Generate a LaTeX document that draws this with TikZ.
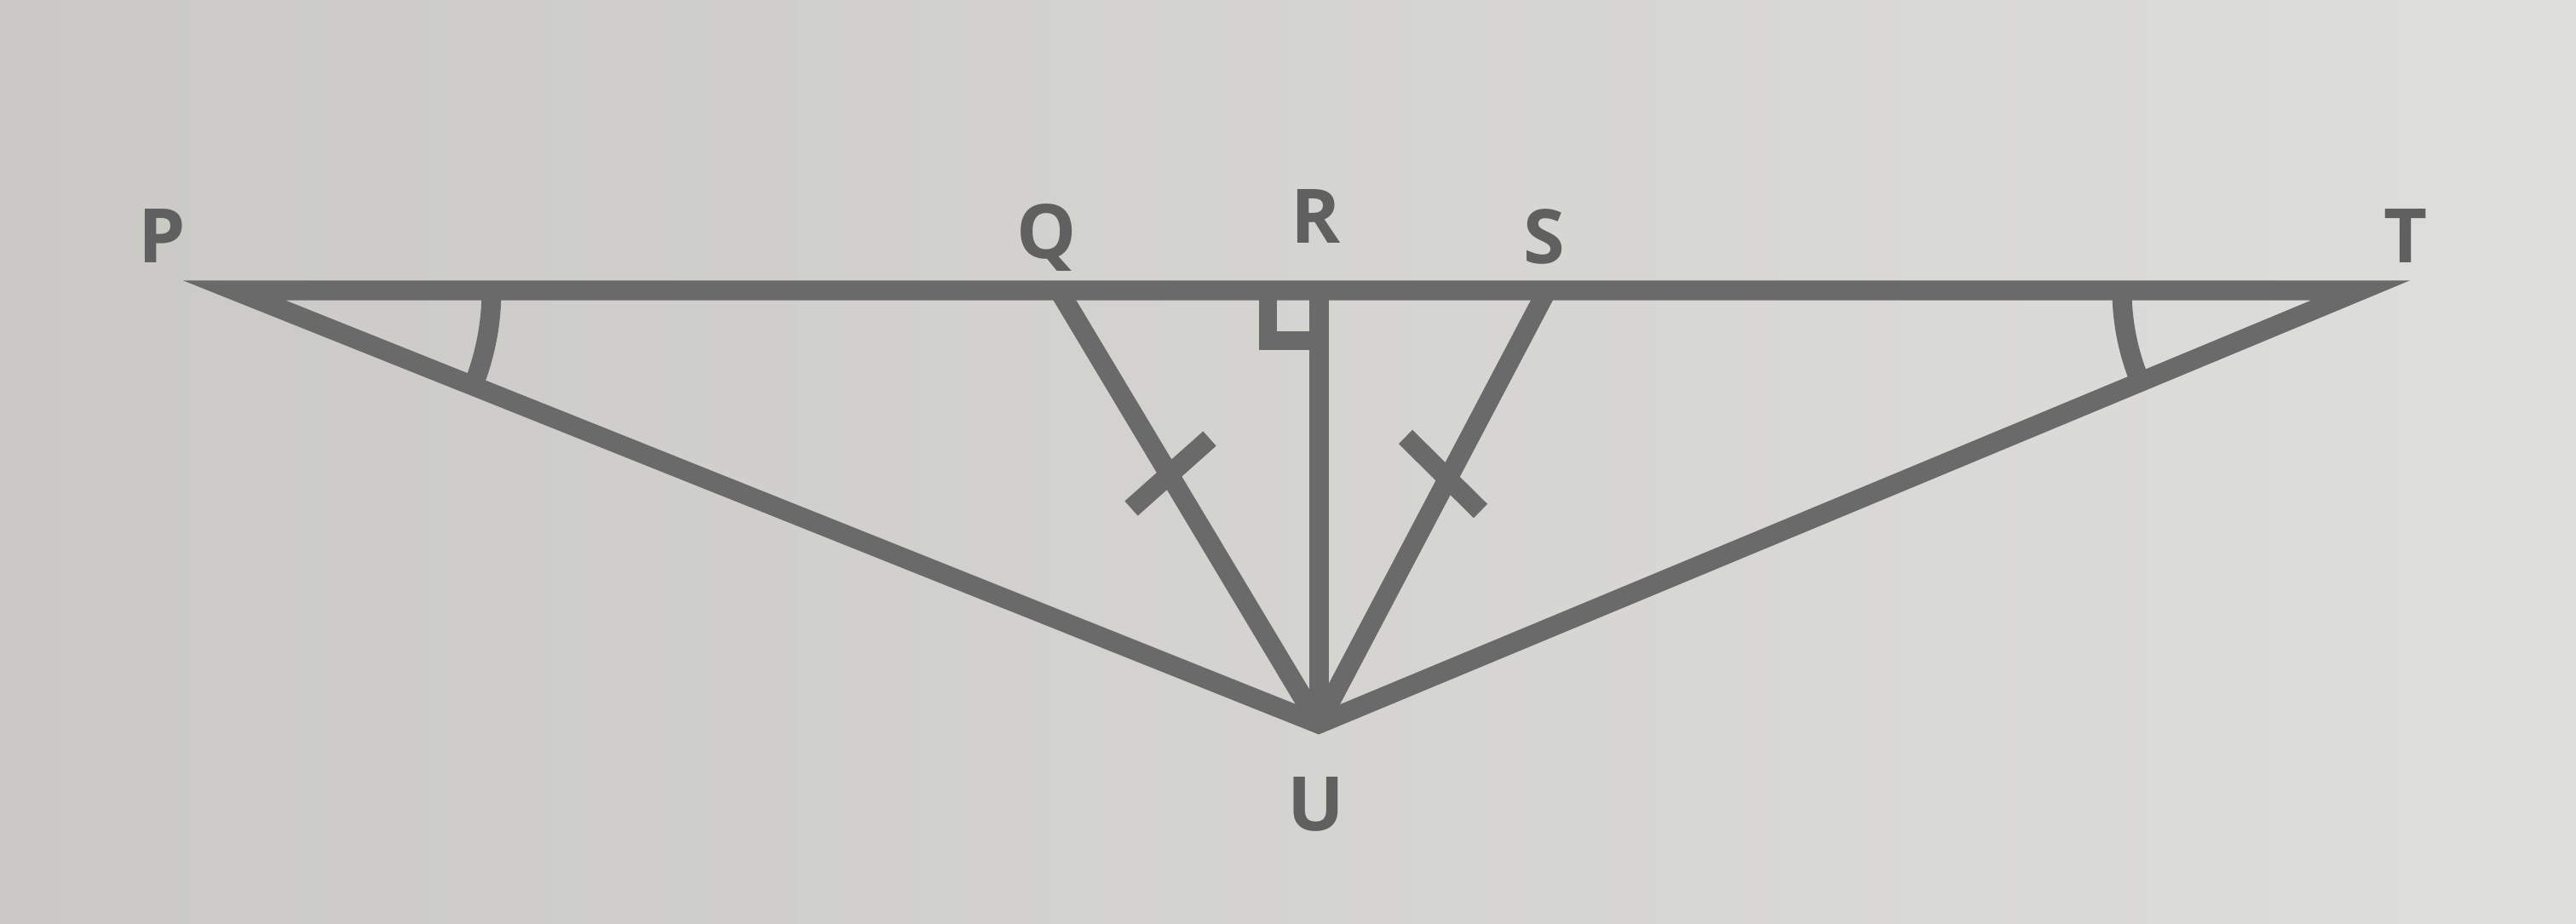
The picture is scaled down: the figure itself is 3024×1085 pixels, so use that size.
\documentclass[tikz,border=0pt]{standalone}
\usepackage{fontspec}
\setmainfont{Open Sans}
\definecolor{linegray}{RGB}{106,106,106}
\definecolor{textgray}{RGB}{96,96,96}
\definecolor{bgleft}{RGB}{202,201,197}
\definecolor{bgright}{RGB}{222,222,220}
\begin{document}
\begin{tikzpicture}[x=0.01cm,y=0.01cm,
  geo/.style={draw=linegray, line width=0.23cm, line join=miter, line cap=butt},
  lab/.style={text=textgray, font=\bfseries\fontsize{25.1}{30}\selectfont, inner sep=0pt, anchor=base}]
\useasboundingbox (0,0) rectangle (3024,-1085);
\shade[left color=bgleft, right color=bgright] (0,0) rectangle (3024,-1085);
% vertices
\coordinate (P) at (275,-341);
\coordinate (Q) at (1243,-341);
\coordinate (R) at (1548,-341);
\coordinate (S) at (1816,-341);
\coordinate (T) at (2771,-341);
\coordinate (U) at (1548,-850);
% angle marks (under the lines)
\draw[geo] ([shift={(0:302)}]P) arc[start angle=0, end angle=-21.8, radius=302];
\draw[geo] ([shift={(180:280)}]T) arc[start angle=180, end angle=202.6, radius=280];
% right angle mark
\draw[geo, line width=0.21cm] (1488,-341) -- (1488,-400) -- (1548,-400);
% segments
\draw[geo] (Q) -- (U);
\draw[geo] (R) -- (U);
\draw[geo] (S) -- (U);
\draw[geo] (P) -- (T) -- (U) -- cycle;
% equal-length ticks
\draw[geo] (1328,-597) -- (1420,-515);
\draw[geo] (1650,-513) -- (1738,-600);
% labels
\node[lab] (lP) at (190,-308) {P};
\node[lab] (lQ) at (1229,-304) {Q};
\node[lab] (lR) at (1545,-285) {R};
\node[lab] (lS) at (1813,-310) {S};
\node[lab] (lT) at (2824,-308) {T};
\node[lab] (lU) at (1545,-975) {U};
\end{tikzpicture}
\end{document}
